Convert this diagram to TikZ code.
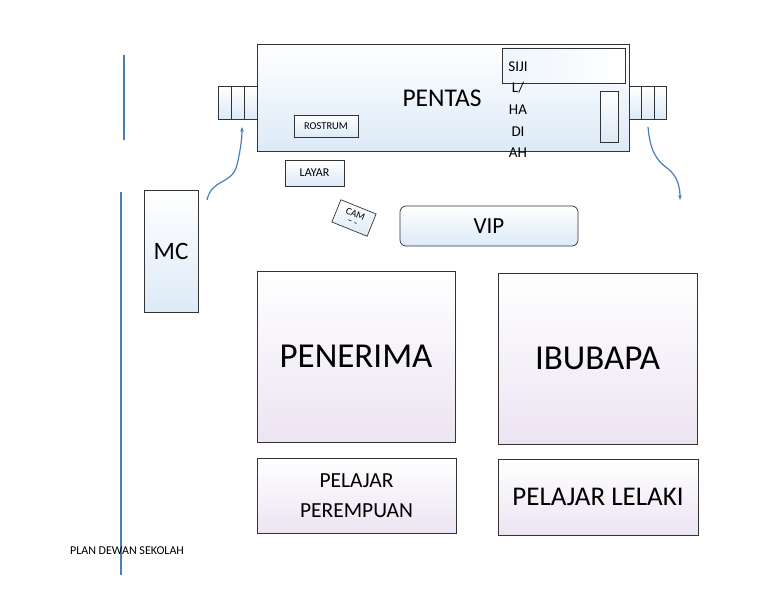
\documentclass[tikz,border=0pt]{standalone}
\usepackage{fontspec}
\setmainfont{Carlito}
\usetikzlibrary{arrows.meta}
\definecolor{lav}{HTML}{ECE4F2}
\definecolor{lblue}{HTML}{DCEAF7}
\definecolor{bl}{HTML}{4A7EBB}
\begin{document}
\begin{tikzpicture}[x=1pt,y=-1pt,
  bx/.style={draw=black!80,line width=0.7pt,top color=white,bottom color=lav},
  bb/.style={draw=black!80,line width=0.7pt,top color=white,bottom color=lblue},
  fl/.style={bl,line width=1.2pt},
  ar/.style={bl,line width=1.2pt,-{Stealth[length=5pt]}}]
\useasboundingbox (0,0) rectangle (768,594);
\node[bb,minimum width=372pt,minimum height=107pt,inner sep=0] (pentas) at (443,97.5) {};
\node at (442,98) {\fontsize{25.5}{25.5}\selectfont PENTAS};
\node[draw=black!80,line width=0.7pt,left color=white!50!lblue,right color=white,minimum width=123pt,minimum height=35pt,inner sep=0] (sijil) at (563.5,65.5) {};
\foreach \t/\y in {SIJI/67,{L/}/88,HA/110,DI/132,AH/153} \node[font=\fontsize{15}{15}\selectfont] at (518,\y) {\t};
\node[bb,minimum width=18pt,minimum height=51pt,inner sep=0] (tab) at (609,116.5) {};
\foreach \a/\b in {218/231,231/244,244/257,629/641,641/654,654/666}
  \node[bb,minimum width=\b-\a pt,minimum height=33pt,inner sep=0] at ({(\a+\b)/2},102.5) {};
\node[bb,minimum width=64pt,minimum height=22pt,inner sep=0,font=\fontsize{10.5}{10.5}\selectfont] (rostrum) at (326,126) {ROSTRUM};
\node[bb,minimum width=59pt,minimum height=26pt,inner sep=0,font=\fontsize{12}{12}\selectfont] (layar) at (314.5,173) {LAYAR};
\node[bb,minimum width=38pt,minimum height=24pt,inner sep=0,rotate=-22,align=center,font=\fontsize{10}{9}\selectfont] (cam) at (354,218) {CAM\\[-1pt]-- -};
\node[bb,rounded corners=6pt,minimum width=178pt,minimum height=40pt,inner sep=0,font=\fontsize{23}{23}\selectfont] (vip) at (489,226) {VIP};
\node[bb,minimum width=54pt,minimum height=122pt,inner sep=0,font=\fontsize{25}{25}\selectfont] (mc) at (171,251) {MC};
\node[bx,minimum width=198pt,minimum height=171pt,inner sep=0,font=\fontsize{35}{35}\selectfont] (pen) at (356,356.5) {PENERIMA};
\node[bx,minimum width=199pt,minimum height=171pt,inner sep=0,font=\fontsize{35}{35}\selectfont] (ibu) at (597.5,358.5) {IBUBAPA};
\node[bx,minimum width=199pt,minimum height=75pt,inner sep=0,align=center,font=\fontsize{21.5}{30}\selectfont] (pp) at (356.5,495.5) {PELAJAR\\PEREMPUAN};
\node[bx,minimum width=200pt,minimum height=76pt,inner sep=0,font=\fontsize{27}{27}\selectfont] (pl) at (598,497) {PELAJAR LELAKI};
\draw[fl] (124,55) -- (124,140);
\draw[fl] (121,192) -- (121,575);
\coordinate (a1) at (207,200); \coordinate (a2) at (242,127);
\draw[ar] (a1) .. controls (212,178) and (232,185) .. (237,165) .. controls (240,152) and (242,140) .. (a2);
\coordinate (b1) at (648,127); \coordinate (b2) at (680,200);
\draw[ar] (b1) .. controls (650,150) and (656,160) .. (667,168) .. controls (678,176) and (680,188) .. (b2);
\node[font=\fontsize{12}{12}\selectfont] (plan) at (127,551) {PLAN DEWAN SEKOLAH};
\end{tikzpicture}
\end{document}
